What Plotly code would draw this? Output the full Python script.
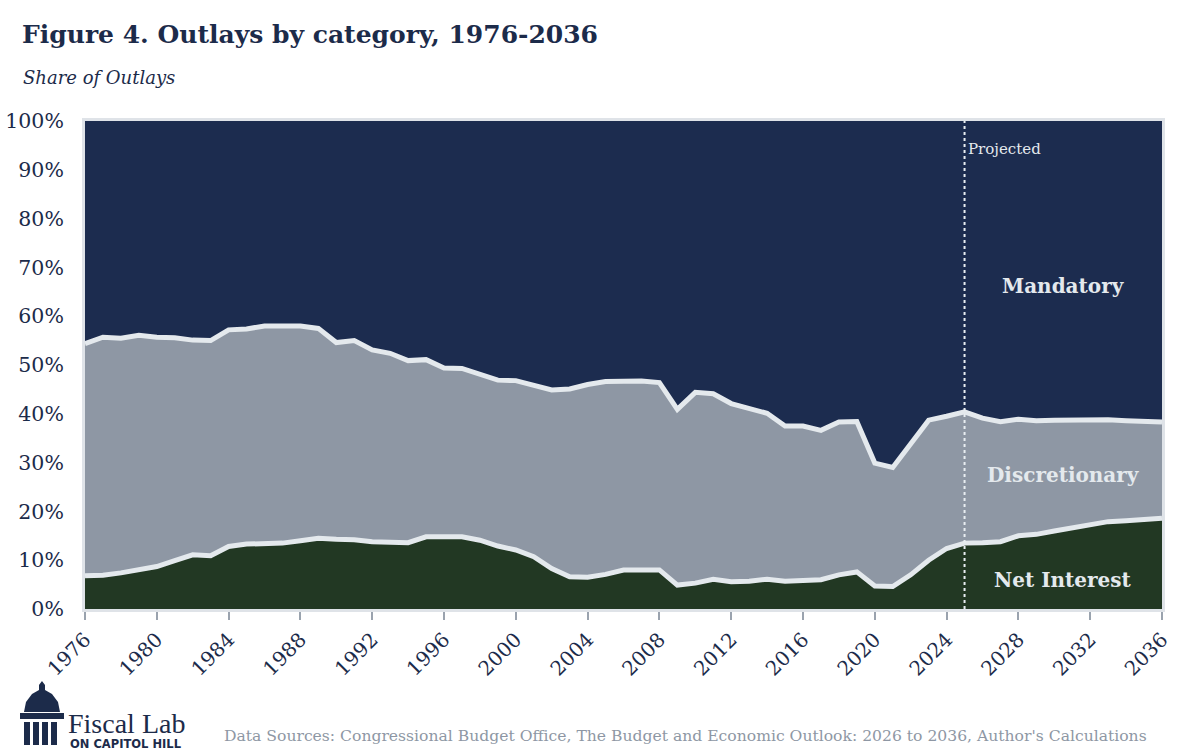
import plotly.graph_objects as go

years = list(range(1976, 2037))

net_interest = [6.8, 6.9, 7.4, 8.0, 8.7, 9.9, 11.1, 10.9, 12.8, 13.3,
                13.4, 13.5, 14.0, 14.5, 14.3, 14.2, 13.8, 13.6, 13.6, 14.8,
                14.9, 14.8, 14.1, 12.9, 12.1, 10.7, 8.3, 6.6, 6.5, 7.1,
                8.0, 8.1, 8.0, 4.9, 5.3, 6.1, 5.6, 5.7, 6.1, 5.7,
                5.9, 6.0, 7.0, 7.6, 4.7, 4.6, 7.0, 10.0, 12.4, 13.5,
                13.6, 13.8, 15.0, 15.3, 16.0, 16.7, 17.4, 17.9, 18.1, 18.4,
                18.6]

# combined share of net interest + discretionary (upper boundary of gray band)
upper = [54.4, 55.7, 55.5, 56.1, 55.7, 55.6, 55.1, 55.0, 57.2, 57.4,
         58.0, 58.0, 58.0, 57.5, 54.6, 55.0, 53.1, 52.4, 50.9, 51.1,
         49.4, 49.3, 48.0, 46.9, 46.8, 45.9, 44.9, 45.1, 46.0, 46.6,
         46.6, 46.7, 46.4, 40.9, 44.4, 44.1, 42.1, 41.1, 40.1, 37.5,
         37.5, 36.6, 38.3, 38.4, 29.9, 29.0, 34.0, 38.7, 39.5, 40.4,
         39.1, 38.4, 38.9, 38.6, 38.7, 38.8, 38.8, 38.8, 38.6, 38.4,
         38.3]

discretionary = [round(u - n, 1) for u, n in zip(upper, net_interest)]
mandatory = [round(100 - u, 1) for u in upper]

tick_years = list(range(1976, 2037, 4))
y_ticks = list(range(0, 101, 10))
y_tick_labels = [f"{v}%" for v in y_ticks]

NAVY = "#1c2c4f"
GRAY = "#8e97a4"
GREEN = "#223823"
LINE = "#e4e9ed"
TEXT = "#1c2b4a"
SERIF = "DejaVu Serif"

W, H = 1195, 754
L, R, T, B = 85, 1162, 121, 609


def px(x, y):
    """pixel position -> paper coordinates of the plot area"""
    return (x - L) / (R - L), (B - y) / (B - T)


fig = go.Figure()
fig.add_trace(go.Scatter(x=years, y=net_interest, stackgroup="one", mode="lines",
                         fillcolor=GREEN, line=dict(color=LINE, width=5),
                         name="Net Interest"))
fig.add_trace(go.Scatter(x=years, y=discretionary, stackgroup="one", mode="lines",
                         fillcolor=GRAY, line=dict(color=LINE, width=5),
                         name="Discretionary"))
fig.add_trace(go.Scatter(x=years, y=mandatory, stackgroup="one", mode="lines",
                         fillcolor=NAVY, line=dict(color=NAVY, width=0),
                         name="Mandatory"))

fig.update_layout(
    width=W, height=H,
    margin=dict(l=L, r=W - R, t=T, b=H - B),
    paper_bgcolor="white", plot_bgcolor="white",
    showlegend=False,
    font=dict(family=SERIF, color=TEXT),
)
fig.update_xaxes(range=[1976, 2036], tickvals=tick_years, ticktext=[str(y) for y in tick_years],
                 tickangle=-45, tickfont=dict(size=20, family=SERIF, color=TEXT),
                 showgrid=False, zeroline=False, showline=True, linecolor="#dfe3e8",
                 linewidth=3, mirror=True, ticks="outside", ticklen=8, tickcolor="#9aa3ae",
                 tickwidth=2, automargin=False)
fig.update_yaxes(range=[0, 100], tickvals=y_ticks, ticktext=y_tick_labels,
                 tickfont=dict(size=20.5, family=SERIF, color=TEXT),
                 showgrid=False, zeroline=False, showline=True, linecolor="#dfe3e8",
                 linewidth=3, mirror=True, ticks="", ticklabelstandoff=14, automargin=False)

# projection divider
fig.add_shape(type="line", x0=2025, x1=2025, y0=0, y1=100, xref="x", yref="y",
              line=dict(color="#e9eef2", width=2, dash="dot"), layer="above")
fig.add_annotation(x=2025, y=94.3, xref="x", yref="y", text="Projected", showarrow=False,
                   xanchor="left", xshift=1, font=dict(size=15, family=SERIF, color="#e4e9ed"))

# series labels
for label, yv in [("Mandatory", 66.2), ("Discretionary", 27.5), ("Net Interest", 5.9)]:
    fig.add_annotation(x=2030.5, y=yv, xref="x", yref="y", text=f"<b>{label}</b>", showarrow=False,
                       font=dict(size=20, family=SERIF, color="#e4e9ed"))

# title & subtitle
x, y = px(20, 35)
fig.add_annotation(x=x, y=y, xref="paper", yref="paper",
                   text="<b>Figure 4. Outlays by category, 1976-2036</b>",
                   showarrow=False, xanchor="left", yanchor="middle",
                   font=dict(size=25, family=SERIF, color=TEXT))
x, y = px(21, 77)
fig.add_annotation(x=x, y=y, xref="paper", yref="paper", text="<i>Share of Outlays</i>",
                   showarrow=False, xanchor="left", yanchor="middle",
                   font=dict(size=18, family=SERIF, color=TEXT))

# footer: logo text + source
x, y = px(66, 723)
fig.add_annotation(x=x, y=y, xref="paper", yref="paper", text="Fiscal Lab",
                   showarrow=False, xanchor="left", yanchor="middle",
                   font=dict(size=28, family="Liberation Serif", color=TEXT))
x, y = px(68, 744)
fig.add_annotation(x=x, y=y, xref="paper", yref="paper", text="<b>ON CAPITOL HILL</b>",
                   showarrow=False, xanchor="left", yanchor="middle",
                   font=dict(size=11.5, family="DejaVu Sans", color=TEXT))
x, y = px(222, 736)
fig.add_annotation(x=x, y=y, xref="paper", yref="paper",
                   text="Data Sources: Congressional Budget Office, The Budget and Economic Outlook: 2026 to 2036, Author's Calculations",
                   showarrow=False, xanchor="left", yanchor="middle",
                   font=dict(size=15.6, family=SERIF, color="#8e97a4"))


# simple capitol icon
def path_from(points):
    s = ""
    for i, (xx, yy) in enumerate(points):
        X, Y = px(xx, yy)
        s += ("M" if i == 0 else "L") + f"{X:.5f},{Y:.5f} "
    return s + "Z"


dome = [(24, 712), (26, 702), (32, 694), (39, 690), (39, 685), (42, 681), (45, 685), (45, 690),
        (52, 694), (58, 702), (60, 712)]
fig.add_shape(type="path", path=path_from(dome), xref="paper", yref="paper",
              fillcolor=TEXT, line=dict(width=0))
for cx in [24, 33, 42, 51]:
    x0, y0 = px(cx, 722)
    x1, y1 = px(cx + 6, 745)
    fig.add_shape(type="rect", x0=x0, x1=x1, y0=y1, y1=y0, xref="paper", yref="paper",
                  fillcolor=TEXT, line=dict(width=0))
x0, y0 = px(20, 713)
x1, y1 = px(64, 719)
fig.add_shape(type="rect", x0=x0, x1=x1, y0=y1, y1=y0, xref="paper", yref="paper",
              fillcolor=TEXT, line=dict(width=0))

fig.write_html("out.html")
